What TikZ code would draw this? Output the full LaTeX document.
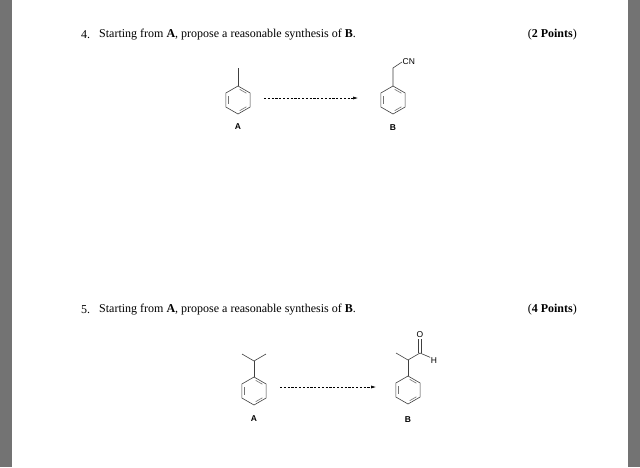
\documentclass[tikz,border=0pt]{standalone}
\usepackage{fontspec}
\setmainfont{Liberation Serif}
\newfontfamily\atomfont{Liberation Sans}
\usetikzlibrary{arrows.meta,calc}
\tikzset{
 bond/.style={draw=black!75,line width=0.6pt},
 inner/.style={draw=black!55,line width=0.6pt},
 atom/.style={font=\atomfont\fontsize{8.5}{9}\selectfont,inner sep=0.5pt},
 lab/.style={font=\atomfont\bfseries\fontsize{8.5}{9}\selectfont},
 qtext/.style={font=\fontsize{12}{14}\selectfont,anchor=west,inner sep=0},
 rxn/.style={draw=black,line width=0.5pt,dash pattern=on 2.2pt off 1.6pt,-{Latex[length=5pt,width=3pt]}}
}
\newcommand{\benz}[2]{%
 \coordinate (#1) at #2;
 \foreach \i in {0,...,5}{\coordinate (#1v\i) at ($(#1)+(-90-60*\i:14)$);}
 \draw[bond] (#1v0)--(#1v1)--(#1v2)--(#1v3)--(#1v4)--(#1v5)--cycle;
 \foreach \a in {1,3,5}{
  \draw[inner] ($(#1)+(-90-60*\a-9:10.8)$) -- ($(#1)+(-150-60*\a+9:10.8)$);}
}
\begin{document}
\begin{tikzpicture}[x=1pt,y=-1pt]
\fill[black!55] (0,0) rectangle (640,467);
\fill[white] (12,0) rectangle (628,467);
\useasboundingbox (0,0) rectangle (640,467);
% Q4
\node[qtext] (q4n) at (81,35) {4.};
\node[qtext] (q4t) at (99,35) {Starting from \textbf{A}, propose a reasonable synthesis of \textbf{B}.};
\node[qtext,anchor=east] (q4p) at (577,35) {(\textbf{2 Points})};
\benz{a4}{(238,100)}
\coordinate (a4m) at (238,68);
\draw[bond] (a4v0)--(a4m);
\node[lab] (a4l) at (238,127) {A};
\benz{b4}{(393,100)}
\coordinate (b4c) at (393,68);
\node[atom,anchor=west] (b4cn) at (402,62) {CN};
\draw[bond] (b4v0)--(b4c)--(b4cn.west);
\node[lab] (b4l) at (393,128) {B};
\coordinate (r4s) at (264,98); \coordinate (r4e) at (358,98);
\draw[rxn] (r4s)--(r4e);
% Q5
\node[qtext] (q5n) at (81,310) {5.};
\node[qtext] (q5t) at (99,310) {Starting from \textbf{A}, propose a reasonable synthesis of \textbf{B}.};
\node[qtext,anchor=east] (q5p) at (577,310) {(\textbf{4 Points})};
\benz{a5}{(254,391)}
\coordinate (a5c) at (254,361);
\coordinate (a5l1) at (242,354); \coordinate (a5r1) at (266,354);
\draw[bond] (a5v0)--(a5c); \draw[bond] (a5l1)--(a5c)--(a5r1);
\node[lab] (a5l) at (254,419) {A};
\benz{b5}{(408,390)}
\coordinate (b5c) at (408,360);
\coordinate (b5me) at (396,353);
\coordinate (b5co) at (420,353);
\node[atom] (b5o) at (420,335) {O};
\node[atom] (b5h) at (434,361) {H};
\draw[bond] (b5v0)--(b5c); \draw[bond] (b5me)--(b5c)--(b5co);
\draw[bond] (b5co)--(b5h.north west);
\draw[bond] ($(b5co)+(-1.3,0)$)--($(b5o.south)+(-1.3,0)$);
\draw[bond] ($(b5co)+(1.3,0)$)--($(b5o.south)+(1.3,0)$);
\node[lab] (b5l) at (408,420) {B};
\coordinate (r5s) at (280,387); \coordinate (r5e) at (376,387);
\draw[rxn] (r5s)--(r5e);
\end{tikzpicture}
\end{document}
